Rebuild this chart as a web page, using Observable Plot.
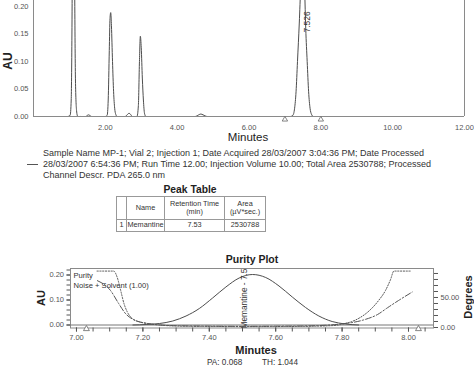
<!DOCTYPE html>
<html>
<head>
<meta charset="utf-8">
<script src="https://cdn.jsdelivr.net/npm/d3@7"></script>
<script src="https://cdn.jsdelivr.net/npm/@observablehq/plot@0.6"></script>
<style>
html,body{margin:0;padding:0;background:#fff;}
#chart{position:relative;width:474px;height:366px;overflow:hidden;font-family:Arial,"Liberation Sans",Helvetica,sans-serif;color:#333;}
#chart svg{position:absolute;left:0;}
.t{position:absolute;white-space:pre;line-height:1;}
.c{transform:translate(-50%,-50%);}
.m{transform:translateY(-50%);}
.r{transform:translate(-50%,-50%) rotate(-90deg);}
.b{font-weight:bold;color:#222;}
#peaktable{position:absolute;left:116px;top:196px;border-collapse:collapse;table-layout:fixed;width:149px;font-size:7.3px;color:#333;}
#peaktable td{border:1px solid #999;padding:0;text-align:center;line-height:8.5px;overflow:hidden;white-space:nowrap;}
</style>
</head>
<body>
<div id="chart"></div>
<script>
const W = 474;
const FONT = 'Arial, "Liberation Sans", Helvetica, sans-serif';

// ---------- Main chromatogram (PDA 265.0 nm) ----------
const chromTime = [0, 0.95, 1.02, 1.05, 1.07, 1.09, 1.11, 1.13, 1.15, 1.17, 1.20, 1.23, 1.26, 1.30,
  1.45, 1.53, 1.62,
  2.00, 2.05, 2.08, 2.11, 2.13, 2.15, 2.17, 2.20, 2.23, 2.26, 2.29, 2.33,
  2.55, 2.62, 2.66, 2.70, 2.75, 2.80, 2.86,
  2.88, 2.92, 2.95, 2.975, 3.00, 3.03, 3.06, 3.09, 3.13,
  4.50, 4.60, 4.66, 4.72, 4.84,
  7.15, 7.22, 7.27, 7.31, 7.35, 7.40, 7.44, 7.48, 7.526, 7.55, 7.58, 7.62, 7.66, 7.70, 7.74, 7.79,
  12.0];
const chromAU = [0, 0, 0.002, 0.03, 0.15, 0.40, 0.55, 0.45, 0.20, 0.06, 0.010, 0, -0.002, 0,
  0, 0.003, 0,
  0, 0.002, 0.03, 0.12, 0.178, 0.189, 0.165, 0.10, 0.045, 0.015, 0.004, 0,
  0, 0.004, 0.006, 0.004, 0, -0.001, 0,
  0, 0.02, 0.10, 0.146, 0.125, 0.07, 0.030, 0.006, 0,
  0, 0.003, 0.0045, 0.003, 0,
  0, 0.002, 0.015, 0.045, 0.10, 0.17, 0.235, 0.27, 0.28, 0.23, 0.16, 0.10, 0.045, 0.015, 0.004, 0,
  0];
const topXTicks = [2, 4, 6, 8, 10, 12];
const topYTicks = [0, 0.05, 0.10, 0.15, 0.20];
const integMarksTop = [7.0, 8.0];
const apexTimes = [7.526];
const apexLabels = ["7.526"];

// ---------- Legend / metadata ----------
const legendLines = [
  "Sample Name MP-1; Vial 2; Injection 1; Date Acquired 28/03/2007 3:04:36 PM; Date Processed",
  "28/03/2007 6:54:36 PM; Run Time 12.00; Injection Volume 10.00; Total Area 2530788; Processed",
  "Channel Descr. PDA 265.0 nm"
];

// ---------- Peak table ----------
const peakNames = ["Memantine"];
const peakRT = ["7.53"];
const peakArea = ["2530788"];

// ---------- Purity plot ----------
const purTime = [7.17, 7.21, 7.25, 7.29, 7.33, 7.37, 7.41, 7.45, 7.49, 7.53, 7.57, 7.61, 7.65, 7.69, 7.73, 7.77, 7.81, 7.85];
const purAU   = [0, 0.002, 0.006, 0.016, 0.036, 0.066, 0.108, 0.152, 0.188, 0.202, 0.190, 0.156, 0.112, 0.070, 0.036, 0.014, 0.004, 0];
const angleTime = [7.062, 7.112, 7.123, 7.133, 7.143, 7.153, 7.168, 7.193, 7.223, 7.253, 7.30, 7.40, 7.50, 7.60, 7.70, 7.774, 7.810, 7.846, 7.880, 7.910, 7.931, 7.946, 7.956, 8.006];
const angleDeg  = [94, 94, 83, 62, 40, 26, 15, 9, 6, 4, 2.5, 1.8, 1.5, 1.6, 2.0, 3.3, 6.7, 14, 27, 45, 62, 80, 94, 94];
const threshTime = [7.063, 7.102, 7.127, 7.148, 7.172, 7.214, 7.253, 7.30, 7.40, 7.50, 7.60, 7.70, 7.795, 7.864, 7.907, 7.937, 7.970, 8.011];
const threshDeg  = [78, 62, 40, 23, 13, 6.7, 4.2, 3, 2.3, 2, 2.2, 2.8, 5.8, 12.5, 21.7, 33, 45, 59];
const purXTicks = [7.0, 7.2, 7.4, 7.6, 7.8, 8.0];
const purXMinor = [7.00, 7.05, 7.10, 7.15, 7.20, 7.25, 7.30, 7.35, 7.40, 7.45, 7.50, 7.55, 7.60, 7.65, 7.70, 7.75, 7.80, 7.85, 7.90, 7.95, 8.00, 8.05];
const purAUTicks = [0, 0.1, 0.2];
const purAUMinor = [0, 0.02, 0.04, 0.06, 0.08, 0.10, 0.12, 0.14, 0.16, 0.18, 0.20, 0.22];
const purDegTicks = [0, 50];
const purDegMinor = [0, 10, 20, 30, 40, 50, 60, 70, 80, 90];
const integMarksPur = [7.03, 8.03];
const purPeakTime = [7.515];
const purPeakLabel = ["Memantine - 7.5"];
const purLegend = ["Purity", "Noise + Solvent (1.00)"];
const purStats = ["PA: 0.068", "TH: 1.044"];

const root = document.getElementById("chart");
function addText(txt, x, y, cls, size, extra) {
  const d = document.createElement("div");
  d.className = "t " + cls;
  d.textContent = txt;
  d.style.left = x + "px";
  d.style.top = y + "px";
  d.style.fontSize = size + "px";
  if (extra) Object.assign(d.style, extra);
  root.appendChild(d);
  return d;
}
const noText = () => "";

// ---------- top chromatogram ----------
const chrom = chromTime.map((t, i) => ({t, au: chromAU[i]}));
const topPlot = Plot.plot({
  width: W, height: 145,
  marginTop: 0, marginRight: 10, marginBottom: 29, marginLeft: 33,
  x: {domain: [0, 12], axis: null},
  y: {domain: [0, 0.211], axis: null},
  style: {fontFamily: FONT, fontSize: "7.5px", color: "#555", background: "transparent"},
  marks: [
    Plot.ruleX([0, 12], {stroke: "#8a8a8a"}),
    Plot.ruleY([0], {stroke: "#8a8a8a"}),
    Plot.axisY(topYTicks, {anchor: "left", tickSize: 0, tickPadding: 5, tickFormat: ".2f", label: null}),
    Plot.axisX(topXTicks, {anchor: "bottom", tickSize: 0, tickPadding: 8, tickFormat: ".2f", label: null}),
    Plot.line(chrom, {x: "t", y: "au", stroke: "#4d4d4d", strokeWidth: 1, curve: "monotone-x", clip: true}),
    Plot.dot(integMarksTop, {x: d => d, frameAnchor: "bottom", dy: 3, symbol: "triangle", r: 2, stroke: "#666", strokeWidth: 0.8, fill: "white"}),
    Plot.text(apexTimes, {x: d => d, frameAnchor: "top", dy: 32, text: (d, i) => apexLabels[i], rotate: -90, textAnchor: "start", fontSize: 8.5, fill: "#333"})
  ]
});
topPlot.style.top = "0px";
root.appendChild(topPlot);

addText("AU", 7.5, 61, "r b", 12);
addText("Minutes", 248, 138, "c", 11.5, {color: "#222"});

// legend block
const ln = document.createElement("div");
Object.assign(ln.style, {position: "absolute", left: "27px", top: "164px", width: "11px", borderTop: "1px solid #555"});
root.appendChild(ln);
legendLines.forEach((s, i) => addText(s, 43, 153 + i * 11, "m", 9));

// peak table
addText("Peak Table", 190, 190, "c b", 10.3);
const tbl = document.createElement("table");
tbl.id = "peaktable";
let html = '<colgroup><col style="width:10px"><col style="width:38px"><col style="width:60px"><col style="width:41px"></colgroup>';
html += '<tr style="height:23px"><td></td><td>Name</td><td>Retention Time<br>(min)</td><td>Area<br>(\u00b5V*sec.)</td></tr>';
peakNames.forEach((n, i) => {
  html += `<tr style="height:12px"><td>${i + 1}</td><td>${n}</td><td>${peakRT[i]}</td><td>${peakArea[i]}</td></tr>`;
});
tbl.innerHTML = html;
root.appendChild(tbl);

// ---------- purity plot ----------
const PTOP = 262, PH = 84;
const pm = {marginTop: 6, marginRight: 41, marginBottom: 18.5, marginLeft: 70};
const pxDomain = [6.982, 8.0753];
const pur = purTime.map((t, i) => ({t, v: purAU[i]}));
const ang = angleTime.map((t, i) => ({t, v: angleDeg[i]}));
const thr = threshTime.map((t, i) => ({t, v: threshDeg[i]}));

const purPlot = Plot.plot({
  width: W, height: PH, ...pm,
  x: {domain: pxDomain, axis: null},
  y: {domain: [-0.012, 0.226], axis: null},
  style: {fontFamily: FONT, fontSize: "7.5px", color: "#555", background: "transparent"},
  marks: [
    Plot.frame({stroke: "#8a8a8a"}),
    Plot.ruleY([0], {stroke: "#777"}),
    Plot.axisY(purAUMinor, {anchor: "left", tickSize: 3.5, tickFormat: noText, label: null}),
    Plot.axisY(purAUTicks, {anchor: "left", tickSize: 3.5, tickPadding: 3, tickFormat: ".2f", label: null}),
    Plot.axisX(purXMinor, {anchor: "bottom", tickSize: 4, tickFormat: noText, label: null}),
    Plot.axisX(purXTicks, {anchor: "bottom", tickSize: 4, tickPadding: 2.5, tickFormat: ".2f", label: null}),
    Plot.line(pur, {x: "t", y: "v", stroke: "#4d4d4d", strokeWidth: 1, curve: "monotone-x"}),
    Plot.dot(integMarksPur, {x: d => d, frameAnchor: "bottom", dy: 0.9, symbol: "triangle", r: 2.2, stroke: "#666", strokeWidth: 0.8, fill: "white"}),
    Plot.text([purLegend[0]], {frameAnchor: "top-left", dx: 3, dy: 7, lineAnchor: "middle", textAnchor: "start", fontSize: 7.6, fill: "#333"}),
    Plot.text([purLegend[1]], {frameAnchor: "top-left", dx: 3, dy: 17, lineAnchor: "middle", textAnchor: "start", fontSize: 7.6, fill: "#333"}),
    Plot.text(purPeakTime, {x: d => d, frameAnchor: "bottom", dy: 0.5, text: (d, i) => purPeakLabel[i], rotate: -90, textAnchor: "start", fontSize: 8.3, fill: "#333"})
  ]
});
purPlot.style.top = PTOP + "px";
root.appendChild(purPlot);

const degPlot = Plot.plot({
  width: W, height: PH, ...pm,
  x: {domain: pxDomain, axis: null},
  y: {domain: [-0.83, 98.3], axis: null},
  style: {fontFamily: FONT, fontSize: "7.5px", color: "#555", background: "transparent"},
  marks: [
    Plot.axisY(purDegMinor, {anchor: "right", tickSize: 4, tickFormat: noText, label: null}),
    Plot.axisY(purDegTicks, {anchor: "right", tickSize: 4, tickPadding: 3, tickFormat: ".2f", label: null}),
    Plot.line(ang, {x: "t", y: "v", stroke: "#555", strokeWidth: 1, strokeDasharray: "1.2,1.6", curve: "monotone-x"}),
    Plot.line(thr, {x: "t", y: "v", stroke: "#555", strokeWidth: 1, strokeDasharray: "6,2,1.5,2", curve: "monotone-x"})
  ]
});
degPlot.style.top = PTOP + "px";
root.appendChild(degPlot);

addText("Purity Plot", 252, 259, "c b", 10.5);
addText("AU", 40.5, 298, "r b", 11);
addText("Degrees", 468, 297, "r b", 11);
addText("Minutes", 256, 350, "c b", 11);
addText(purStats[0], 207, 363, "m", 8.2);
addText(purStats[1], 262, 363, "m", 8.2);
</script>
</body>
</html>
